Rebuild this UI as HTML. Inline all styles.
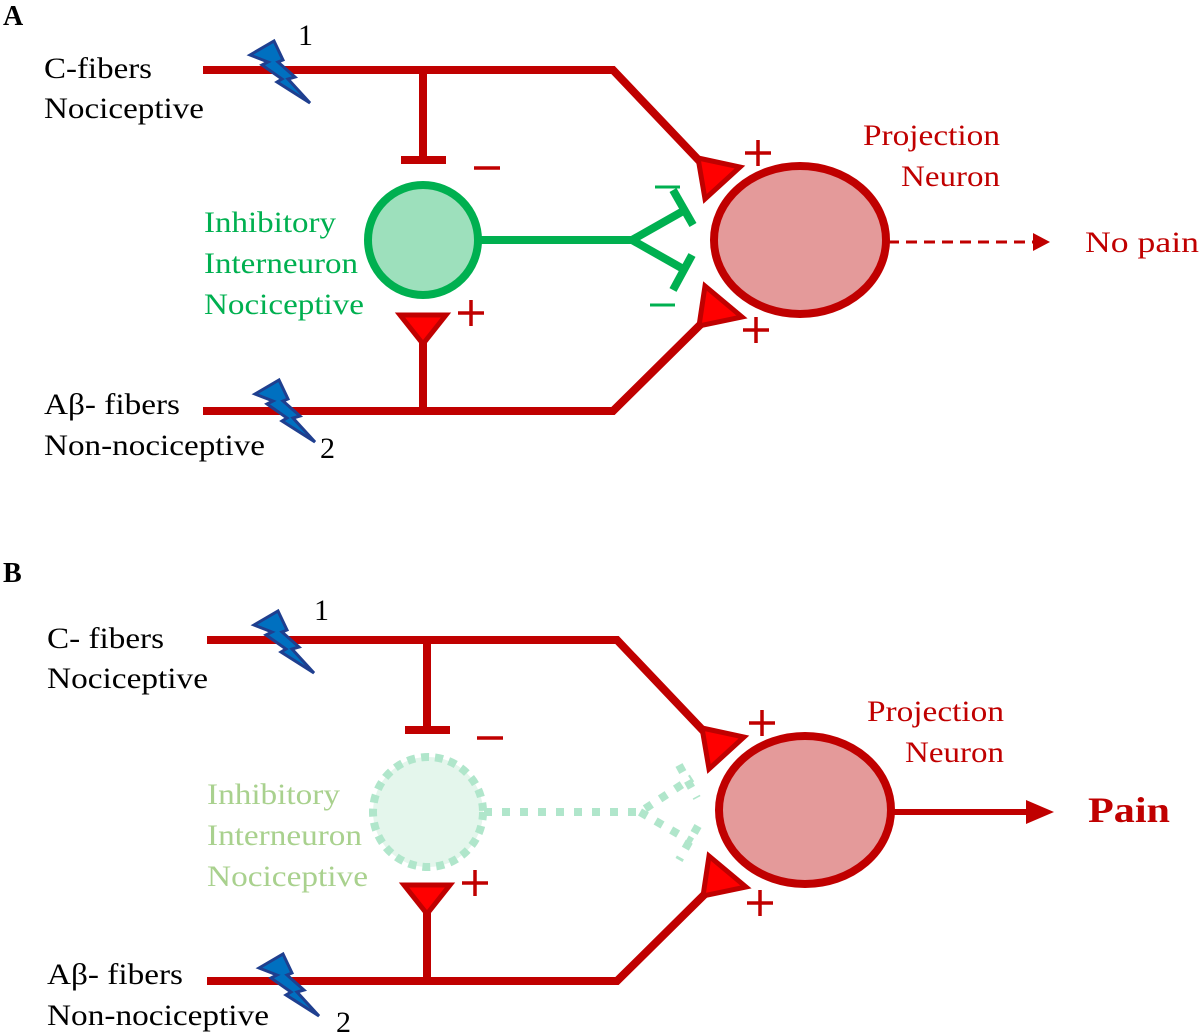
<!DOCTYPE html>
<html><head><meta charset="utf-8"><style>
html,body{margin:0;padding:0;background:#fff;}
svg{display:block;}
text{font-family:"Liberation Serif","Times New Roman",Times,serif;}
</style></head><body>
<svg width="1200" height="1033" viewBox="0 0 1200 1033" xmlns="http://www.w3.org/2000/svg">
<defs>
<polygon id="bolt" points="0,14 24,0 33,19 28,21 45,36 38,38 60,62 27,41 32,38 12,24 18,21" fill="#0070c0" stroke="#1f3f8f" stroke-width="3" stroke-linejoin="miter"/>
</defs>

<!-- Panel A -->
<text x="3" y="25" font-size="28" font-weight="bold">A</text>
<g stroke="#c00000" stroke-width="8" fill="none">
  <polyline points="203,70 613,70 708,170"/>
  <polyline points="203,411 613,411 703,322"/>
  <line x1="423" y1="70" x2="423" y2="160"/>
  <line x1="401" y1="160" x2="446" y2="160"/>
  <line x1="423" y1="335" x2="423" y2="411"/>
</g>
<g fill="#ff0000" stroke="#c00000" stroke-width="5" stroke-linejoin="miter">
  <polygon points="698,158 740,167 705,199"/>
  <polygon points="705,286 742,317 699,326"/>
  <polygon points="400,315 446,315 423,344"/>
</g>
<ellipse cx="800" cy="240" rx="86" ry="74" fill="#e49a9a" stroke="#c00000" stroke-width="8"/>
<line x1="888" y1="242" x2="1035" y2="242" stroke="#c00000" stroke-width="3" stroke-dasharray="11,7"/>
<polygon points="1033,233 1050,242 1033,251" fill="#c00000"/>
<circle cx="423" cy="240" r="55" fill="#9de0bc" stroke="#00b050" stroke-width="8"/>
<g stroke="#00b050" stroke-width="8" fill="none">
  <polyline points="478,240 632,240 685,210"/>
  <polyline points="632,240 685,270"/>
  <line x1="673" y1="190" x2="693" y2="225"/>
  <line x1="692" y1="255" x2="673" y2="290"/>
</g>
<g stroke="#00b050" stroke-width="3">
  <line x1="655" y1="187" x2="680" y2="187"/>
  <line x1="650" y1="305" x2="675" y2="305"/>
</g>
<use href="#bolt" x="250" y="41"/>
<use href="#bolt" x="255" y="380"/>
<g stroke="#c00000" stroke-width="3.5">
  <line x1="474" y1="168" x2="500" y2="168"/>
  <line x1="458" y1="313" x2="484" y2="313"/><line x1="471" y1="300" x2="471" y2="326"/>
  <line x1="745" y1="153" x2="771" y2="153"/><line x1="758" y1="140" x2="758" y2="166"/>
  <line x1="743" y1="330" x2="769" y2="330"/><line x1="756" y1="317" x2="756" y2="343"/>
</g>
<g font-size="30" fill="#000">
  <text x="44" y="78" textLength="108" lengthAdjust="spacingAndGlyphs">C-fibers</text>
  <text x="44" y="118" textLength="160" lengthAdjust="spacingAndGlyphs">Nociceptive</text>
  <text x="298" y="45">1</text>
  <text x="44" y="414" textLength="136" lengthAdjust="spacingAndGlyphs">Aβ- fibers</text>
  <text x="44" y="455" textLength="221" lengthAdjust="spacingAndGlyphs">Non-nociceptive</text>
  <text x="320" y="458">2</text>
</g>
<g font-size="30" fill="#00b050">
  <text x="204" y="232" textLength="132" lengthAdjust="spacingAndGlyphs">Inhibitory</text>
  <text x="204" y="273" textLength="154" lengthAdjust="spacingAndGlyphs">Interneuron</text>
  <text x="204" y="314" textLength="160" lengthAdjust="spacingAndGlyphs">Nociceptive</text>
</g>
<g font-size="30" fill="#c00000">
  <text x="863" y="145" textLength="137" lengthAdjust="spacingAndGlyphs">Projection</text>
  <text x="901" y="186" textLength="99" lengthAdjust="spacingAndGlyphs">Neuron</text>
  <text x="1085" y="252" textLength="114" lengthAdjust="spacingAndGlyphs">No pain</text>
</g>

<!-- Panel B -->
<text x="3" y="582" font-size="28" font-weight="bold">B</text>
<g transform="translate(4,570)">
<g stroke="#c00000" stroke-width="8" fill="none">
  <polyline points="203,70 613,70 708,170"/>
  <polyline points="203,411 613,411 703,322"/>
  <line x1="423" y1="70" x2="423" y2="160"/>
  <line x1="401" y1="160" x2="446" y2="160"/>
  <line x1="423" y1="335" x2="423" y2="411"/>
</g>
<g fill="#ff0000" stroke="#c00000" stroke-width="5" stroke-linejoin="miter">
  <polygon points="698,158 740,167 705,199"/>
  <polygon points="705,286 742,317 699,326"/>
  <polygon points="400,315 446,315 423,344"/>
</g>
<ellipse cx="801" cy="240" rx="86" ry="74" fill="#e49a9a" stroke="#c00000" stroke-width="8"/>
<line x1="888" y1="242" x2="1030" y2="242" stroke="#c00000" stroke-width="6"/>
<polygon points="1022,230 1050,242 1022,254" fill="#c00000"/>
<circle cx="424" cy="242" r="55" fill="#e4f6ec" stroke="#b0e6cb" stroke-width="8" stroke-dasharray="8,6"/>
<g stroke="#b0e6cb" stroke-width="8" fill="none" stroke-dasharray="8,10">
  <polyline points="480,242 636,242 688,208"/>
  <polyline points="636,242 688,272"/>
  <line x1="675" y1="195" x2="693" y2="228"/>
  <line x1="694" y1="256" x2="675" y2="290"/>
</g>
<use href="#bolt" x="250" y="41"/>
<use href="#bolt" x="255" y="384"/>
<g stroke="#c00000" stroke-width="3.5">
  <line x1="473" y1="168" x2="499" y2="168"/>
  <line x1="458" y1="313" x2="484" y2="313"/><line x1="471" y1="300" x2="471" y2="326"/>
  <line x1="745" y1="153" x2="771" y2="153"/><line x1="758" y1="140" x2="758" y2="166"/>
  <line x1="743" y1="333" x2="769" y2="333"/><line x1="756" y1="320" x2="756" y2="346"/>
</g>
<g font-size="30" fill="#000">
  <text x="43" y="78" textLength="117" lengthAdjust="spacingAndGlyphs">C- fibers</text>
  <text x="43" y="118" textLength="161" lengthAdjust="spacingAndGlyphs">Nociceptive</text>
  <text x="310" y="50">1</text>
  <text x="43" y="414" textLength="136" lengthAdjust="spacingAndGlyphs">Aβ- fibers</text>
  <text x="43" y="455" textLength="222" lengthAdjust="spacingAndGlyphs">Non-nociceptive</text>
  <text x="332" y="462">2</text>
</g>
<g font-size="30" fill="#a9d18e">
  <text x="203" y="234" textLength="133" lengthAdjust="spacingAndGlyphs">Inhibitory</text>
  <text x="203" y="275" textLength="155" lengthAdjust="spacingAndGlyphs">Interneuron</text>
  <text x="203" y="316" textLength="161" lengthAdjust="spacingAndGlyphs">Nociceptive</text>
</g>
<g font-size="30" fill="#c00000">
  <text x="863" y="151" textLength="137" lengthAdjust="spacingAndGlyphs">Projection</text>
  <text x="901" y="192" textLength="99" lengthAdjust="spacingAndGlyphs">Neuron</text>
  <text x="1084" y="252" font-size="36" font-weight="bold" textLength="82" lengthAdjust="spacingAndGlyphs">Pain</text>
</g>
</g>
</svg>
</body></html>
